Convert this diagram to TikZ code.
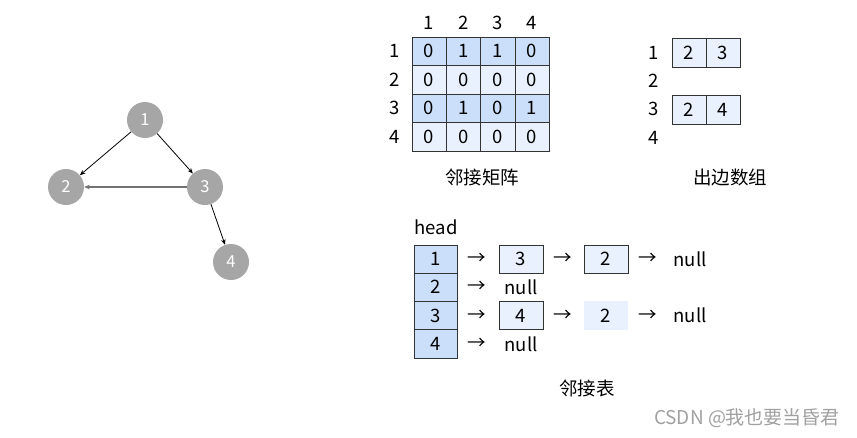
\documentclass[tikz,border=0pt]{standalone}
\usepackage{fontspec}
\setmainfont{Noto Sans CJK SC}
\usetikzlibrary{arrows.meta}
\definecolor{vgray}{HTML}{A6A6A6}
\definecolor{rowdark}{RGB}{204,223,250}
\definecolor{rowlight}{RGB}{232,241,253}
\definecolor{wmgray}{HTML}{A0A0A0}

\begin{document}
\begin{tikzpicture}[x=1pt,y=-1pt,font=\fontsize{18.5}{20}\selectfont,
    vertex/.style={circle,fill=vgray,text=white,minimum size=36pt,inner sep=0pt,font=\fontsize{16.5}{16}\selectfont},
    edge/.style={-{Stealth[length=5.5pt,width=4.5pt]},line width=0.8pt},
    cell/.style={draw=black!80,minimum width=34.25pt,minimum height=28.5pt,inner sep=0pt},
    lcell/.style={draw=black!80,minimum width=44pt,minimum height=28.25pt,inner sep=0pt}]
\useasboundingbox (0,0) rectangle (857,437);

% Graph
\node[vertex] (v1) at (145,120) {1};
\node[vertex] (v2) at (66,187) {2};
\node[vertex] (v3) at (205,187) {3};
\node[vertex] (v4) at (231,262) {4};
\draw[edge] (v1) -- (v2);
\draw[edge] (v1) -- (v3);
\draw[edge,draw=black!55,line width=1.4pt] (v3) -- (v2);
\draw[edge] (v3) -- (v4);

% Adjacency matrix
\foreach \c in {1,2,3,4} {
    \node (mc\c) at (394.875+34.25*\c, 23) {\c};
    \node (mr\c) at (395, 22.75+28.5*\c) {\c};
}
\foreach \shade/\vals [count=\r] in {rowdark/{0,1,1,0}, rowlight/{0,0,0,0}, rowdark/{0,1,0,1}, rowlight/{0,0,0,0}} {
    \foreach \v [count=\c] in \vals {
        \node[cell,fill=\shade] (m\r\c) at (394.875+34.25*\c, 22.75+28.5*\r) {\v};
    }
}
\node (capm) at (482,177) {邻接矩阵};

% Out-edge array
\foreach \r in {1,2,3,4} {
    \node (or\r) at (654, 24.5+28.3*\r) {\r};
}
\node[cell,fill=rowlight] (o11) at (689,52.5) {2};
\node[cell,fill=rowlight] (o12) at (723,52.5) {3};
\node[cell,fill=rowlight] (o31) at (689,109.5) {2};
\node[cell,fill=rowlight] (o32) at (723,109.5) {4};
\node (capo) at (730,177) {出边数组};

% Adjacency list
\node (head) at (436,227) {head};
\foreach \r in {1,2,3,4} {
    \node[lcell,minimum width=43pt,fill=rowdark] (h\r) at (435.5, 230.75+28.25*\r) {\r};
    \node (a\r) at (477, 230.75+28.25*\r) {→};
}
\node[lcell,fill=rowlight] (l13) at (521,259) {3};
\node (b1) at (563,259) {→};
\node[lcell,fill=rowlight] (l12) at (606,259) {2};
\node (c1) at (648,259) {→};
\node (n1) at (690,259) {null};
\node (n2) at (521,287.25) {null};
\node[lcell,fill=rowlight] (l34) at (521,315.5) {4};
\node (b3) at (563,315.5) {→};
\node[lcell,draw=none,fill=rowlight] (l32) at (606,315.5) {2};
\node (c3) at (648,315.5) {→};
\node (n3) at (690,315.5) {null};
\node (n4) at (521,344) {null};
\node (capl) at (587,388) {邻接表};

% Watermark
\node[text=wmgray,font=\fontsize{19}{19}\selectfont] (wm) at (747,418) {CSDN @我也要当昏君};
\end{tikzpicture}
\end{document}
